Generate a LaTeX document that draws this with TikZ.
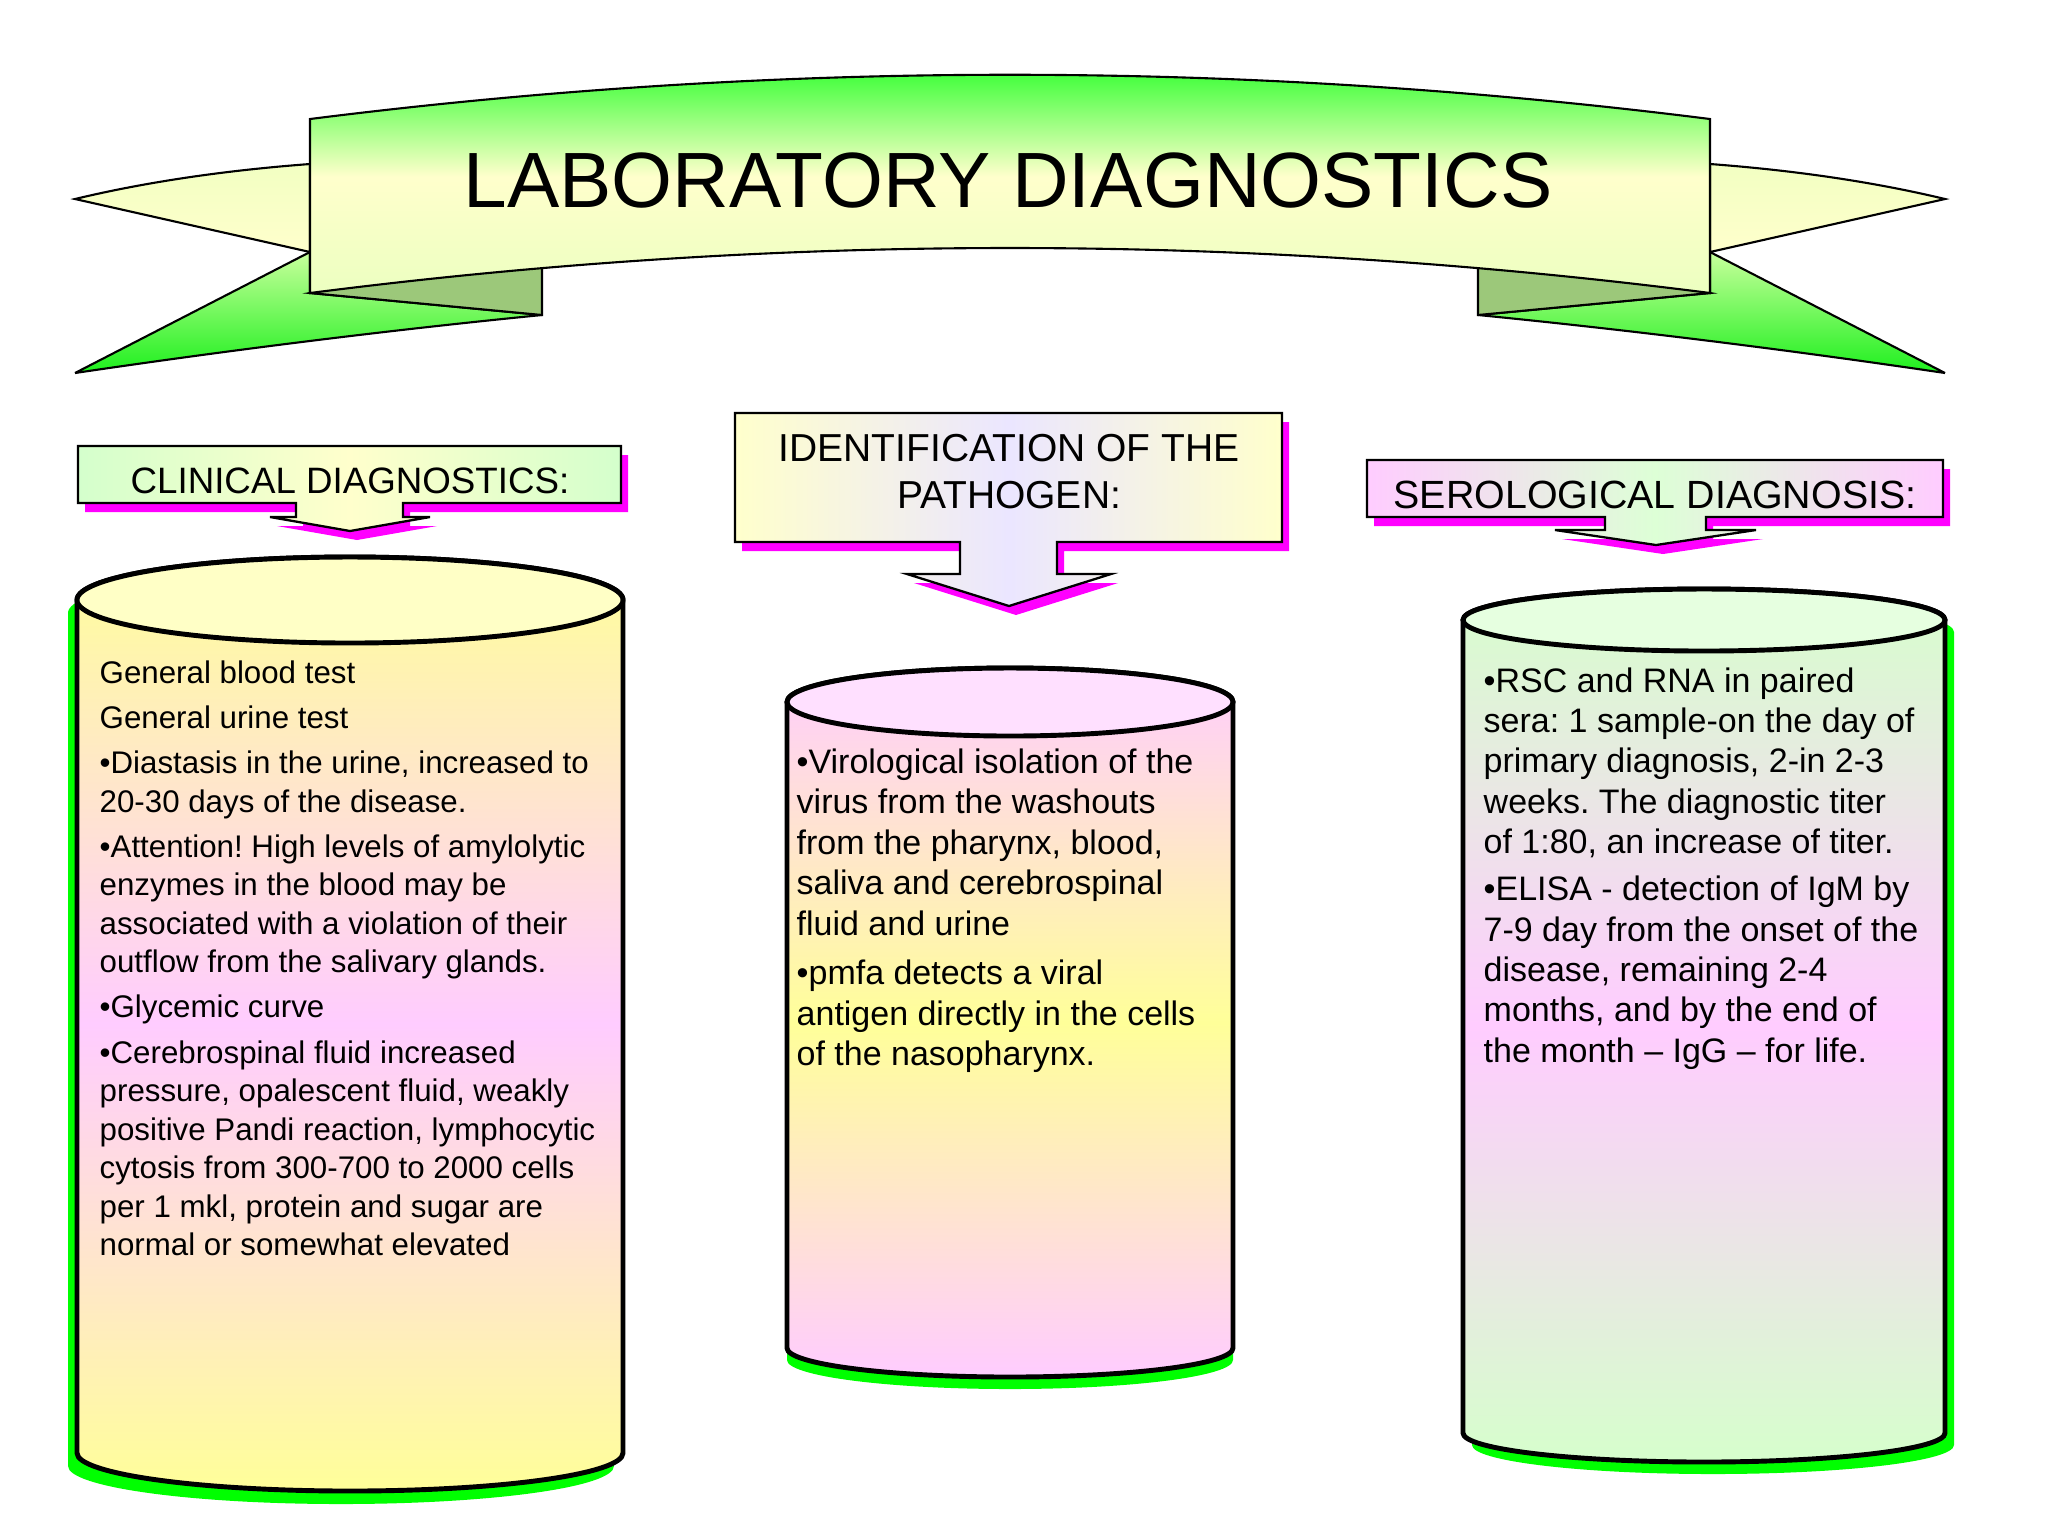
\documentclass[tikz,border=0pt]{standalone}
\usepackage{fontspec}
\setmainfont{Liberation Sans}
\frenchspacing
\usetikzlibrary{shadows}

\definecolor{ribbongreen}{HTML}{2AFF2A}
\definecolor{ribbonpale}{HTML}{FFFFCC}
\definecolor{ribbonlow}{HTML}{ECFFC0}
\definecolor{tailgreen}{HTML}{1EF01E}
\definecolor{taillight}{HTML}{C8FF9C}
\definecolor{tailtop}{HTML}{F2FFC2}
\definecolor{foldgreen}{HTML}{9CC87A}
\definecolor{magshadow}{HTML}{FF00FF}
\definecolor{grnshadow}{HTML}{00FF00}
\definecolor{boxyellow}{HTML}{FFFFCC}
\definecolor{boxgreen}{HTML}{D4FFCC}
\definecolor{boxlilac}{HTML}{EBE6FF}
\definecolor{boxpink}{HTML}{FFCCFF}
\definecolor{boxmint}{HTML}{DDFFD6}
\definecolor{cylyellow}{HTML}{FFFF99}
\definecolor{cylpink}{HTML}{FFCCFF}
\definecolor{cylgreen}{HTML}{D6FFCC}
\definecolor{capyellow}{HTML}{FFFFC6}
\definecolor{cappink}{HTML}{FFE0FF}
\definecolor{capgreen}{HTML}{E6FFE0}

\begin{document}
\begin{tikzpicture}[x=0.1mm, y=-0.1mm,
    ribbon/.style={draw=black, line width=0.6pt},
    callout/.style={draw=black, line width=0.65pt,
      drop shadow={shadow xshift=0.7mm, shadow yshift=-0.9mm, fill=magshadow, opacity=1}},
    cylbody/.style 2 args={draw=black, line width=1.4pt,
      drop shadow={shadow xshift=#1, shadow yshift=#2, fill=grnshadow, opacity=1}},
    cylcap/.style={draw=black, line width=1.4pt},
    heading/.style={inner sep=0pt, anchor=base},
    bullets/.style={inner sep=0pt, anchor=north west, align=left}]

  % Background
  \path[use as bounding box, fill=white] (0,0) rectangle (2048,1536);

  % Banner tails (left, then mirrored right)
  \foreach \side in {1,-1}{
    \begin{scope}[shift={(1010,0)}, xscale=\side]
      \shade[ribbon, top color=tailtop, bottom color=ribbonpale]
        (-935,199) .. controls (-860,181) and (-780,170) .. (-700,164) -- (-700,252) -- cycle;
      \shade[ribbon, top color=taillight, bottom color=tailgreen]
        (-935,373) -- (-700,252) -- (-700,293) -- (-468,315)
        .. controls (-620,330) and (-780,350) .. (-935,373);
      \fill[foldgreen, ribbon] (-700,293) -- (-468,315) -- (-468,250) -- cycle;
    \end{scope}
  }

  % Main banner
  \shade[ribbon, top color=ribbongreen, bottom color=ribbonlow, middle color=ribbonpale]
    (310,119) .. controls (777,60) and (1243,60) .. (1710,119) -- (1710,293)
    .. controls (1243,233) and (777,233) .. (310,293) -- cycle;
  \node[heading, font=\fontsize{22.3pt}{26pt}\selectfont] (title) at (1008,207) {LABORATORY DIAGNOSTICS};

  % Clinical diagnostics
  \shade[callout, left color=boxgreen, right color=boxgreen, middle color=boxyellow]
    (78,446) -- (621,446) -- (621,503) -- (403,503) -- (403,517) -- (430,517)
    -- (350,531) -- (270,517) -- (296,517) -- (296,503) -- (78,503) -- cycle;
  \node[heading, font=\fontsize{10.45pt}{12pt}\selectfont] (clinical) at (350,493) {CLINICAL DIAGNOSTICS:};

  % Identification of the pathogen
  \shade[callout, left color=boxyellow, right color=boxyellow, middle color=boxlilac]
    (735,413) -- (1282,413) -- (1282,542) -- (1057,542) -- (1057,574) -- (1111,574)
    -- (1009,606) -- (907,574) -- (960,574) -- (960,542) -- (735,542) -- cycle;
  \node[inner sep=0pt, anchor=north, align=center, font=\fontsize{11.1pt}{13.1pt}\selectfont]
    (pathogen) at (1009,434) {IDENTIFICATION OF THE\\PATHOGEN:};

  % Serological diagnosis
  \shade[callout, left color=boxpink, right color=boxpink, middle color=boxmint]
    (1367,460) -- (1943,460) -- (1943,517) -- (1706,517) -- (1706,530) -- (1756,530)
    -- (1656,545) -- (1555,530) -- (1605,530) -- (1605,517) -- (1367,517) -- cycle;
  \node[heading, font=\fontsize{11.2pt}{13pt}\selectfont] (serology) at (1655,508) {SEROLOGICAL DIAGNOSIS:};

  % Left cylinder
  \shade[cylbody={-0.9mm}{-1.3mm}, top color=cylyellow, bottom color=cylyellow, middle color=cylpink]
    (77,600) -- (77,1453) arc[start angle=180, end angle=0, x radius=273, y radius=38]
    -- (623,600) arc[start angle=0, end angle=-180, x radius=273, y radius=43] -- cycle;
  \draw[cylcap, fill=capyellow] (350,600) ellipse [x radius=273, y radius=43];

  % Middle cylinder
  \shade[cylbody={0mm}{-1.2mm}, top color=cylpink, bottom color=cylpink, middle color=cylyellow]
    (787,702) -- (787,1348) arc[start angle=180, end angle=0, x radius=223, y radius=29]
    -- (1233,702) arc[start angle=0, end angle=-180, x radius=223, y radius=34] -- cycle;
  \draw[cylcap, fill=cappink] (1010,702) ellipse [x radius=223, y radius=34];

  % Right cylinder
  \shade[cylbody={0.9mm}{-1.2mm}, top color=cylgreen, bottom color=cylgreen, middle color=cylpink]
    (1463,620) -- (1463,1433) arc[start angle=180, end angle=0, x radius=241, y radius=29]
    -- (1945,620) arc[start angle=0, end angle=-180, x radius=241, y radius=31] -- cycle;
  \draw[cylcap, fill=capgreen] (1704,620) ellipse [x radius=241, y radius=31];

  % Texts in the cylinders
  \node[bullets, font=\fontsize{8.9pt}{10.95pt}\selectfont] (clinicaltext) at (99,660)
    {General blood test\\[1.9pt]
     General urine test\\[1.9pt]
     •Diastasis in the urine, increased to\\
     20-30 days of the disease.\\[1.9pt]
     •Attention! High levels of amylolytic\\
     enzymes in the blood may be\\
     associated with a violation of their\\
     outflow from the salivary glands.\\[1.9pt]
     •Glycemic curve\\[1.9pt]
     •Cerebrospinal fluid increased\\
     pressure, opalescent fluid, weakly\\
     positive Pandi reaction, lymphocytic\\
     cytosis from 300-700 to 2000 cells\\
     per 1 mkl, protein and sugar are\\
     normal or somewhat elevated};

  \node[bullets, font=\fontsize{9.67pt}{11.5pt}\selectfont] (pathogentext) at (796,748)
    {•Virological isolation of the\\
     virus from the washouts\\
     from the pharynx, blood,\\
     saliva and cerebrospinal\\
     fluid and urine\\[2.6pt]
     •pmfa detects a viral\\
     antigen directly in the cells\\
     of the nasopharynx.};

  \node[bullets, font=\fontsize{9.67pt}{11.47pt}\selectfont] (serologytext) at (1483,667)
    {•RSC and RNA in paired\\
     sera: 1 sample-on the day of\\
     primary diagnosis, 2-in 2-3\\
     weeks. The diagnostic titer\\
     of 1:80, an increase of titer.\\[2pt]
     •ELISA - detection of IgM by\\
     7-9 day from the onset of the\\
     disease, remaining 2-4\\
     months, and by the end of\\
     the month – IgG – for life.};
\end{tikzpicture}
\end{document}
